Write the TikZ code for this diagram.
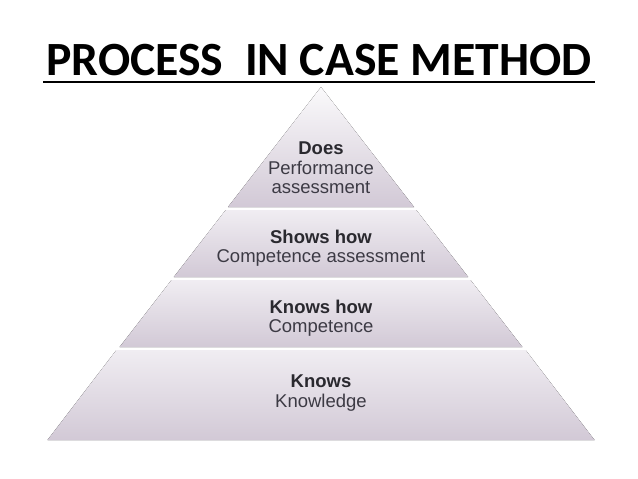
\documentclass[tikz,border=0pt]{standalone}
\usepackage{fontspec}
\setmainfont{Liberation Sans}
\newfontfamily\titlefont{Carlito}
\usepackage{xcolor}
\usetikzlibrary{positioning}

\definecolor{bandlight}{HTML}{F0EDF2}
\definecolor{banddark}{HTML}{D2C9D6}
\definecolor{labeltext}{HTML}{3C3A44}
\definecolor{headtext}{HTML}{2A292F}

\begin{document}
\begin{tikzpicture}[x=1pt, y=-1pt,
    band/.style={top color=bandlight, bottom color=banddark, draw=none},
    tierlabel/.style={align=center, text=labeltext, inner sep=0pt,
      font=\fontsize{18.5}{19.5}\selectfont}]
    \useasboundingbox (0,0) rectangle (638,479);
    % Title
    \node[font=\titlefont\bfseries\fontsize{47.7}{48}\selectfont, inner sep=0pt, anchor=base] (title) at (319,75) {PROCESS\ \ IN CASE METHOD};
    \draw[line width=2.4pt] ([xshift=-3pt,yshift=-7pt]title.base west) -- ([xshift=3pt,yshift=-7pt]title.base east);
    % Pyramid bands
    \fill[band, top color=bandlight!30!white] (321,87) -- (414,207) -- (228,207) -- cycle;
    \fill[band] (225.7,210) -- (416.3,210) -- (468.2,277) -- (173.8,277) -- cycle;
    \fill[band] (171.5,280) -- (470.5,280) -- (522.4,347) -- (119.6,347) -- cycle;
    \fill[band] (116.4,350) -- (525.6,350) -- (594.5,440) -- (47.5,440) -- cycle;
    % Labels
    \node[tierlabel] (does) at (321,168) {{\bfseries\color{headtext}Does}\\Performance\\assessment};
    \node[tierlabel] (shows) at (321,248) {{\bfseries\color{headtext}Shows how}\\Competence assessment};
    \node[tierlabel] (knowshow) at (321,318) {{\bfseries\color{headtext}Knows how}\\Competence};
    \node[tierlabel] (knows) at (321,393) {{\bfseries\color{headtext}Knows}\\Knowledge};
\end{tikzpicture}
\end{document}
